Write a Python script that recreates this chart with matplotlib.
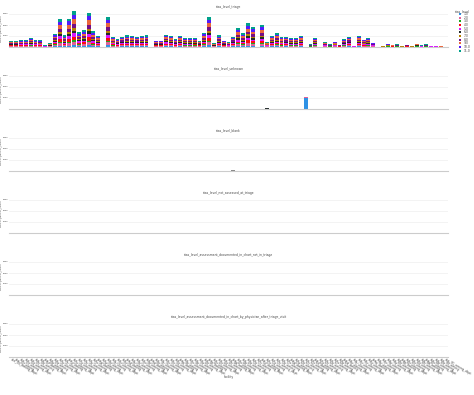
import numpy as np
import matplotlib
matplotlib.use('Agg')
import matplotlib.pyplot as plt
from matplotlib.patches import Rectangle

# data
totals = [545, 545, 600, 600, 790, 600, 636, 150, 330, 1210,
          2520, 1060, 2580, 3240, 1330, 1550, 3090, 1450, 1030, 0,
          2760, 880, 700, 940, 1060, 1000, 940, 1000, 1060, 0,
          575, 575, 1120, 1000, 700, 1000, 790, 790, 820, 545,
          1270, 2760, 330, 1060, 575, 420, 940, 1730, 1240, 2150,
          1790, 0, 1970, 450, 1030, 1240, 880, 940, 790, 790,
          1030, 0, 245, 790, 0, 425, 240, 480, 210, 730,
          910, 120, 1000, 665, 790, 390, 0, 90, 270, 180,
          245, 90, 210, 90, 300, 150, 245, 120, 120, 60,
          30]

levels = ['1.0', '2.0', '3.0', '4.0', '5.0', '6.0', '7.0', '8.0', '9.0', '10.0', '11.0']
colors = ['#2E91E5', '#E15F99', '#1CA71C', '#FB0D0D', '#DA16FF', '#222A2A',
          '#B68100', '#750D86', '#EB663B', '#511CFB', '#00A08B']
shares = [0.05, 0.10, 0.04, 0.09, 0.10, 0.08, 0.07, 0.12, 0.13, 0.12, 0.10]

# other rows: (category index, level index, value)
row_extra = {
    1: [(53, 5, 30), (61, 0, 960), (61, 1, 70)],
    2: [(46, 5, 25)],
    3: [],
    4: [],
    5: [(63, 5, 25)],
}

row_titles = ['ctas_level_triage',
              'ctas_level_unknown',
              'ctas_level_blank',
              'ctas_level_not_assessed_at_triage',
              'ctas_level_assessment_documented_in_chart_not_in_triage',
              'ctas_level_assessment_documented_in_chart_by_physician_after_triage_visit']

cats = ['site_%02d_%s' % (i + 1, 'emerg' if i % 3 else 'emerg_dept')
        for i in range(len(totals))]

W, H = 474, 395
fig = plt.figure(figsize=(W / 100, H / 100), dpi=100)
fs = 2.2

left, right = 9, 448
base = [47, 108.7, 170.7, 232.7, 295, 357]
ph = 37.4
ymax = 3400

x = np.arange(len(totals))
axes = []
for r in range(6):
    ax = fig.add_axes([left / W, 1 - base[r] / H, (right - left) / W, ph / H])
    axes.append(ax)
    if r == 0:
        bottom = np.zeros(len(totals))
        for k in range(len(levels)):
            vals = np.array(totals) * shares[k]
            ax.bar(x, vals, 0.8, bottom=bottom, color=colors[k], linewidth=0)
            bottom += vals
    else:
        bottom = np.zeros(len(totals))
        for ci, li, v in row_extra[r]:
            ax.bar(ci, v, 0.8, bottom=bottom[ci], color=colors[li] if r == 1 else '#888888', linewidth=0)
            bottom[ci] += v
    ax.set_xlim(-0.5, len(totals) - 0.5)
    ax.set_ylim(0, ymax)
    ax.set_yticks([1000, 2000, 3000])
    ax.set_yticklabels(['1000', '2000', '3000'], fontsize=1.6, color='#444444')
    ax.tick_params(axis='y', length=0, pad=0.5)
    ax.grid(axis='y', color='#eeeeee', lw=0.5)
    ax.set_axisbelow(True)
    for s in ['top', 'right', 'left']:
        ax.spines[s].set_visible(False)
    ax.spines['bottom'].set_color('#cccccc')
    ax.spines['bottom'].set_linewidth(0.8)
    ax.set_xticks(x)
    if r < 5:
        ax.set_xticklabels([])
        ax.tick_params(axis='x', length=0)
    else:
        ax.set_xticklabels(cats, fontsize=fs, rotation=-30, ha='left', va='top',
                           rotation_mode='anchor', color='#444444')
        ax.tick_params(axis='x', length=0, pad=0.5)
    fig.text(((left + right) / 2) / W, 1 - (base[r] - ph - 2.5) / H, row_titles[r],
             fontsize=fs, ha='center', va='center', color='#444444')
    fig.text(1.2 / W, 1 - (base[r] - ph / 2) / H, 'sum of patient_count',
             fontsize=1.8, rotation=90, ha='center', va='center', color='#444444')

fig.text(229 / W, 1 - 377 / H, 'facility', fontsize=fs, ha='center', va='center', color='#444444')

# legend
fig.text(455 / W, 1 - 11 / H, 'ctas_level', fontsize=fs, ha='left', va='center', color='#444444')
for k in range(len(levels)):
    yc = 14 + k * 3.67
    fig.add_artist(Rectangle(((459) / W, 1 - (yc + 1.1) / H), 2.2 / W, 2.2 / H,
                             transform=fig.transFigure, color=colors[k], lw=0))
    fig.text(464 / W, 1 - yc / H, levels[k], fontsize=fs, ha='left', va='center', color='#444444')

plt.savefig('out.png', dpi=100)
